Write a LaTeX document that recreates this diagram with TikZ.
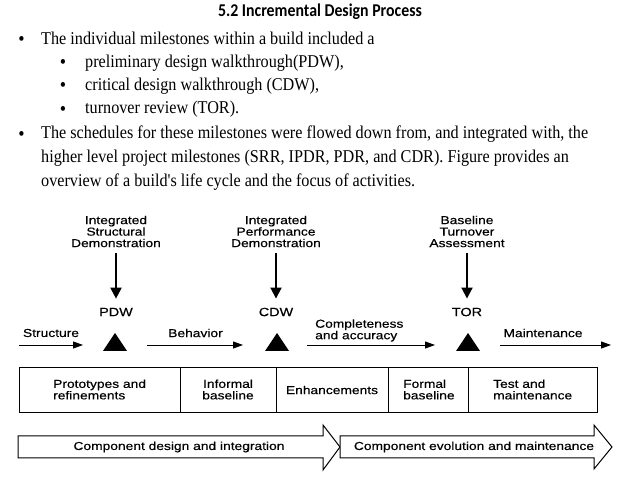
\documentclass[tikz,border=0pt]{standalone}
\usepackage{fontspec}
\setmainfont{Liberation Serif}
\newfontfamily\bodyfont[FakeStretch=0.9]{Liberation Serif}
\newfontfamily\titlefont[FakeStretch=0.88]{Carlito}
\newfontfamily\dfont[FakeStretch=1.2,FakeBold=0.4]{Liberation Sans}
\usetikzlibrary{arrows.meta}
\begin{document}
\begin{tikzpicture}[x=1pt,y=-1pt,
  body/.style={anchor=base west, inner sep=0pt, font={\bodyfont\fontsize{18}{18}\selectfont}},
  bul/.style={anchor=base, inner sep=0pt, font={\bodyfont\fontsize{20}{20}\selectfont}},
  dtext/.style={inner sep=0pt, font={\dfont\fontsize{11.5}{11.5}\selectfont}, align=center},
  dleft/.style={dtext, align=left, anchor=west},
  mstone/.style={inner sep=0pt, font={\dfont\fontsize{12}{12}\selectfont}},
  varrow/.style={line width=2pt, -{Triangle[length=11pt,width=11pt]}, shorten <=6pt, shorten >=9pt},
  harrow/.style={line width=0.9pt, -{Triangle[length=10pt,width=7pt]}},
  boxline/.style={line width=1pt},
  bigarrow/.style={line width=1pt, fill=white, line join=miter}
]
\useasboundingbox (0,0) rectangle (638,478);

% title
\node[anchor=base, inner sep=0pt, font={\titlefont\bfseries\fontsize{18}{18}\selectfont}] (title) at (320,17) {5.2 Incremental Design Process};

% bullets
\node[bul] (b1) at (21.5,46) {\textbullet};
\node[body] (l1) at (41,44.5) {The individual milestones within a build included a};
\node[bul] (b2) at (63,69) {\textbullet};
\node[body] (l2) at (85,67.5) {preliminary design walkthrough(PDW),};
\node[bul] (b3) at (63,92) {\textbullet};
\node[body] (l3) at (85,90.7) {critical design walkthrough (CDW),};
\node[bul] (b4) at (63,115.5) {\textbullet};
\node[body] (l4) at (85,114) {turnover review (TOR).};
\node[bul] (b5) at (21.5,140.5) {\textbullet};
\node[body] (l5) at (41,139) {The schedules for these milestones were flowed down from, and integrated with, the};
\node[body] (l6) at (41,163) {higher level project milestones (SRR, IPDR, PDR, and CDR). Figure provides an};
\node[body] (l7) at (41,187) {overview of a build's life cycle and the focus of activities.};

% top labels
\node[dtext] (isd) at (116,231.5) {Integrated\\Structural\\Demonstration};
\node[dtext] (ipd) at (276,231.5) {Integrated\\Performance\\Demonstration};
\node[dtext] (bta) at (467,231.5) {Baseline\\Turnover\\Assessment};

% milestones
\node[mstone] (pdw) at (116,312) {PDW};
\node[mstone] (cdw) at (276,312) {CDW};
\node[mstone] (tor) at (467,312) {TOR};

\draw[varrow] (isd) -- (pdw);
\draw[varrow] (ipd) -- (cdw);
\draw[varrow] (bta) -- (tor);

% triangles
\fill (103,351) -- (115,333) -- (127,351) -- cycle;
\fill (265,351) -- (277,333) -- (289,351) -- cycle;
\fill (456,351) -- (468,333) -- (480,351) -- cycle;

% flow arrows
\coordinate (s0) at (19,345);  \coordinate (s1) at (83,345);
\coordinate (h0) at (147,345); \coordinate (h1) at (243,345);
\coordinate (c0) at (307,345); \coordinate (c1) at (435,345);
\coordinate (m0) at (500,345); \coordinate (m1) at (611,345);
\draw[harrow] (s0) -- (s1);
\draw[harrow] (h0) -- (h1);
\draw[harrow] (c0) -- (c1);
\draw[harrow] (m0) -- (m1);
\node[dtext] (lstruct) at (51,333) {Structure};
\node[dtext] (lbeh) at (195.5,333) {Behavior};
\node[dleft] (lcomp) at (315,330.5) {Completeness\\and accuracy};
\node[dtext] (lmaint) at (543,333) {Maintenance};

% activity boxes
\draw[boxline] (19,368) rectangle (597,413);
\draw[boxline] (180,368) -- (180,413);
\draw[boxline] (276,368) -- (276,413);
\draw[boxline] (388,368) -- (388,413);
\draw[boxline] (468,368) -- (468,413);
\node[dleft] (a1) at (53,389.5) {Prototypes and\\refinements};
\node[dtext] (a2) at (228,389.5) {Informal\\baseline};
\node[dtext] (a3) at (332,390) {Enhancements};
\node[dleft] (a4) at (403,389.5) {Formal\\baseline};
\node[dleft] (a5) at (493,389.5) {Test and\\maintenance};

% bottom phase arrows
\draw[bigarrow] (18,436) -- (323,436) -- (323,425) -- (340,447) -- (323,470) -- (323,458) -- (18,458) -- cycle;
\draw[bigarrow] (340,436) -- (594,436) -- (594,425) -- (612,447) -- (594,469) -- (594,458) -- (340,458) -- cycle;
\node[dtext] (p1) at (179,447) {Component design and integration};
\node[dtext] (p2) at (474,447) {Component evolution and maintenance};
\end{tikzpicture}
\end{document}
